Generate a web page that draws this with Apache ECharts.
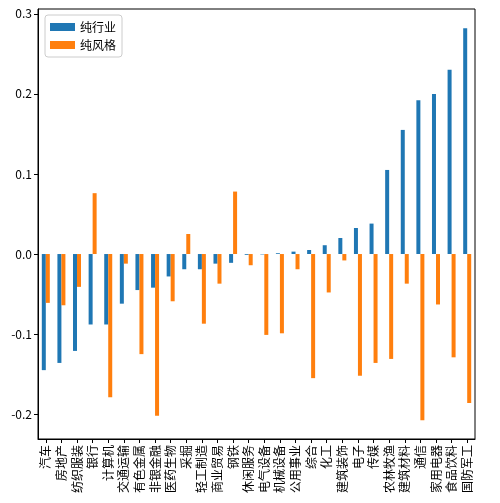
<!DOCTYPE html>
<html><head><meta charset="utf-8">
<script src="https://cdn.jsdelivr.net/npm/echarts@6/dist/echarts.min.js"></script>
<style>html,body{margin:0;padding:0;background:#fff}#c{width:500px;height:503px}</style>
</head><body><div id="c"></div>
<script>
const categories = ['汽车','房地产','纺织服装','银行','计算机','交通运输','有色金属','非银金融','医药生物','采掘','轻工制造','商业贸易','钢铁','休闲服务','电气设备','机械设备','公用事业','综合','化工','建筑装饰','电子','传媒','农林牧渔','建筑材料','通信','家用电器','食品饮料','国防军工'];
const pureIndustry = [-0.145,-0.136,-0.121,-0.088,-0.088,-0.062,-0.045,-0.042,-0.028,-0.019,-0.019,-0.012,-0.011,-0.001,-0.0005,0.001,0.003,0.005,0.011,0.020,0.0325,0.038,0.105,0.155,0.192,0.200,0.230,0.282];
const pureStyle = [-0.061,-0.064,-0.041,0.076,-0.179,-0.012,-0.125,-0.202,-0.059,0.025,-0.087,-0.037,0.078,-0.014,-0.101,-0.099,-0.019,-0.155,-0.048,-0.008,-0.152,-0.136,-0.131,-0.037,-0.2075,-0.063,-0.129,-0.186];
const yTicks = [-0.2,-0.1,0.0,0.1,0.2,0.3];
const seriesNames = ['纯行业','纯风格'];

const chart = echarts.init(document.getElementById('c'), null, {renderer:'canvas'});
const font = '"Noto Sans CJK SC", sans-serif';
chart.setOption({
  animation:false,
  textStyle:{fontFamily:font},
  grid:{left:38,right:25,top:9,bottom:64,show:true,borderColor:'#000',borderWidth:1,backgroundColor:'transparent'},
  legend:{
    orient:'vertical',left:45,top:15,
    data:seriesNames,
    itemWidth:25,itemHeight:8,itemGap:4,
    icon:'rect',
    textStyle:{fontFamily:font,fontSize:12,color:'#000',lineHeight:14},
    borderColor:'#ccc',borderWidth:1,borderRadius:3,padding:[5,6,5,5],
    backgroundColor:'rgba(255,255,255,0.8)'
  },
  xAxis:{
    type:'category',data:categories,
    axisLine:{show:true,onZero:false,lineStyle:{color:'#000'}},
    axisTick:{show:true,alignWithLabel:true,length:4,lineStyle:{color:'#000'}},
    axisLabel:{rotate:90,interval:0,fontSize:12,color:'#000',fontFamily:font,margin:6},
    splitLine:{show:false}
  },
  yAxis:{
    type:'value',min:-0.231,max:0.306,
    axisLine:{show:true,lineStyle:{color:'#000'}},
    axisTick:{show:true,length:4,customValues:yTicks,lineStyle:{color:'#000'}},
    axisLabel:{customValues:yTicks,fontSize:12,color:'#000',fontFamily:font,margin:6,formatter:v=>v.toFixed(1)},
    splitLine:{show:false}
  },
  series:[
    {name:seriesNames[0],type:'bar',data:pureIndustry,barWidth:4,barGap:'0%',itemStyle:{color:'#1f77b4'}},
    {name:seriesNames[1],type:'bar',data:pureStyle,barWidth:4,barGap:'0%',itemStyle:{color:'#ff7f0e'}}
  ]
});
</script></body></html>
